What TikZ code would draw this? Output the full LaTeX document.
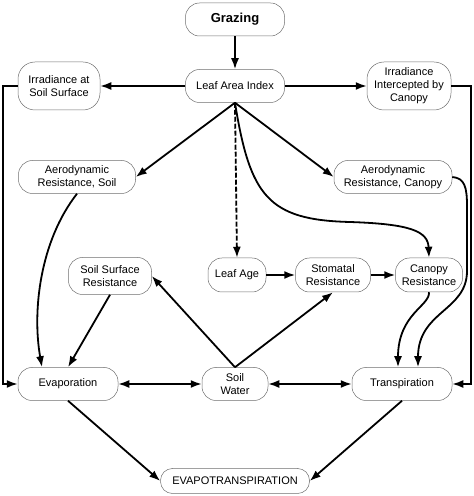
\documentclass[tikz,border=0pt]{standalone}
\usepackage{fontspec}
\setmainfont{Liberation Sans}
\usetikzlibrary{arrows.meta,positioning}
\definecolor{boxcolor}{RGB}{110,110,110}

\begin{document}
\begin{tikzpicture}[x=1pt,y=1pt,
    box/.style={draw=boxcolor, line width=0.5pt, rounded corners=14pt, align=center, inner sep=2pt, font=\fontsize{11}{13}\selectfont},
    flow/.style={-{Latex[length=11pt,width=8pt]}, line width=1.8pt},
    twoway/.style={{Latex[length=11pt,width=8pt]}-{Latex[length=11pt,width=8pt]}, line width=1.8pt}]
    \useasboundingbox (0,0) rectangle (474,496);

    % Top row
    \node[box, font=\bfseries\fontsize{13}{15}\selectfont, minimum width=99, minimum height=33] (grazing) at (235,476.5) {Grazing};
    \node[box, minimum width=99, minimum height=33] (lai) at (235,410) {Leaf Area Index};
    \node[box, rounded corners=17pt, minimum width=82, minimum height=48] (irrsoil) at (59,410) {Irradiance at\\Soil Surface};
    \node[box, rounded corners=17pt, minimum width=84, minimum height=48] (irrcanopy) at (409,410) {Irradiance\\Intercepted by\\Canopy};

    % Aerodynamic resistances
    \node[box, minimum width=117, minimum height=33] (aerosoil) at (77,319) {Aerodynamic\\Resistance, Soil};
    \node[box, minimum width=118, minimum height=33] (aerocanopy) at (393,319) {Aerodynamic\\Resistance, Canopy};

    % Middle row
    \node[box, minimum width=83, minimum height=37] (soilres) at (110,220) {Soil Surface\\Resistance};
    \node[box, minimum width=58, minimum height=34] (leafage) at (237,221) {Leaf Age};
    \node[box, minimum width=75, minimum height=34] (stomatal) at (333,221) {Stomatal\\Resistance};
    \node[box, minimum width=67, minimum height=34] (canopyres) at (429,221) {Canopy\\Resistance};

    % Water balance
    \node[box, minimum width=100, minimum height=33] (evap) at (68,112) {Evaporation};
    \node[box, minimum width=66, minimum height=33] (soilwater) at (235,112) {Soil\\Water};
    \node[box, minimum width=100, minimum height=33] (transp) at (402,112) {Transpiration};
    \node[box, rounded corners=12pt, minimum width=149, minimum height=25] (et) at (235,15) {EVAPOTRANSPIRATION};

    % Leaf area links
    \draw[flow] (grazing) -- (lai);
    \draw[flow] (lai) -- (irrsoil);
    \draw[flow] (lai) -- (irrcanopy);
    \draw[flow] (lai.south) -- (aerosoil.east);
    \draw[flow] (lai.south) -- (aerocanopy.west);
    \draw[flow, dash pattern=on 5pt off 2pt] (lai.south) -- (leafage.north);
    \draw[flow] (lai.south) .. controls (250,300) and (268,276) .. (350,274)
        .. controls (410,272) and (428,265) .. (canopyres.north);

    % Irradiance feedbacks
    \draw[flow] (irrsoil.west) -- ++(-15,0) |- (evap.west);
    \draw[flow] (irrcanopy.east) -- ++(20,0) |- (transp.east);

    % Resistances to fluxes
    \draw[flow] (aerosoil.south) .. controls (40,255) and (32,185) .. ([xshift=-26]evap.north);
    \draw[flow] (soilres.south) -- (evap.north);
    \draw[flow] (aerocanopy.east) .. controls (465,318) and (467,308) .. (467,290)
        -- (467,225) .. controls (467,185) and (418,185) .. ([xshift=16]transp.north);
    \draw[flow] (canopyres.south) .. controls (430,190) and (398,182) .. ([xshift=-4]transp.north);

    % Soil water
    \draw[flow] (soilwater.north) -- (soilres.east);
    \draw[flow] (soilwater.north) -- (stomatal.south);
    \draw[flow] (leafage) -- (stomatal);
    \draw[flow] (stomatal) -- (canopyres);
    \draw[twoway] (evap) -- (soilwater);
    \draw[twoway] (soilwater) -- (transp);

    % Total
    \draw[flow] (evap.south) -- (et.west);
    \draw[flow] (transp.south) -- (et.east);

\end{tikzpicture}
\end{document}
